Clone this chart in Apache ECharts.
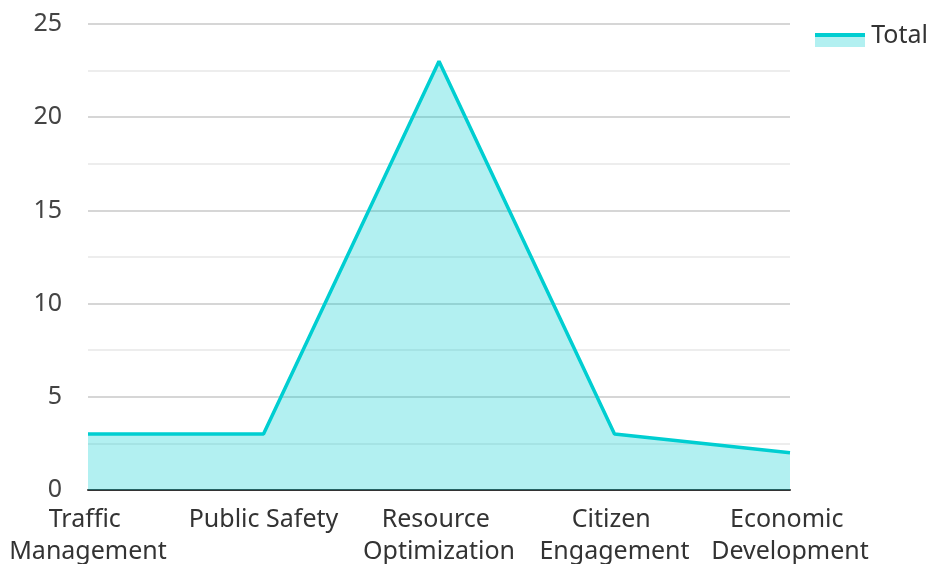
<!DOCTYPE html>
<html>
<head>
<meta charset="utf-8">
<script src="https://cdn.jsdelivr.net/npm/echarts@6/dist/echarts.min.js"></script>
<style>
  html, body { margin: 0; padding: 0; background: #fff; }
  #chart { width: 931px; height: 564px; }
</style>
</head>
<body>
<div id="chart"></div>
<script>
const categories = ['Traffic Management', 'Public Safety', 'Resource Optimization', 'Citizen Engagement', 'Economic Development'];
const totals = [3, 3, 23, 3, 2];
const seriesName = 'Total';

const lineColor = '#00CED1';
const areaColor = 'rgba(0, 206, 209, 0.3)';
const font = 'Noto Sans';

let myChart = echarts.init(document.getElementById('chart'));
let option = {
	textStyle: { fontFamily: font },
	legend: {
		data: [seriesName],
		right: 3,
		top: 23,
		padding: 0,
		icon: 'rect',
		itemWidth: 50,
		itemHeight: 14,
		itemGap: 10,
		itemStyle: { color: 'rgba(0,0,0,0)' },
		textStyle: { fontSize: 25, color: '#333', fontFamily: font, padding: [0, 0, 0, 5] }
	},
	// legend swatch: light area with the line along its top
	graphic: [{
		type: 'rect',
		shape: { x: 815, y: 33, width: 50, height: 14 },
		style: { fill: areaColor },
		z: 100
	}, {
		type: 'line',
		shape: { x1: 815, y1: 35, x2: 865, y2: 35 },
		style: { stroke: lineColor, lineWidth: 4 },
		z: 101
	}],
	grid: {
		left: 88,
		right: 141,
		top: 24,
		bottom: 74,
		outerBoundsMode: 'none'
	},
	xAxis: {
		type: 'category',
		data: categories,
		boundaryGap: false,
		axisLine: { lineStyle: { color: '#333', width: 2 } },
		axisTick: { show: false },
		axisLabel: {
			fontSize: 25,
			color: '#333',
			margin: 14,
			lineHeight: 32,
			width: 175,
			overflow: 'break',
			interval: 0
		}
	},
	yAxis: {
		type: 'value',
		min: 0,
		max: 25,
		interval: 5,
		axisLine: { show: false },
		axisTick: { show: false },
		axisLabel: { fontSize: 25, color: '#444', margin: 26 },
		splitLine: { lineStyle: { color: '#c8c8c8', width: 1.5 } },
		minorTick: { show: false, splitNumber: 2 },
		minorSplitLine: { show: true, lineStyle: { color: '#e8e8e8', width: 1.5 } }
	},
	series: [{
		name: seriesName,
		type: 'line',
		data: totals,
		showSymbol: false,
		symbol: 'none',
		lineStyle: { color: lineColor, width: 3.5 },
		itemStyle: { color: lineColor },
		areaStyle: { color: lineColor, opacity: 0.3 }
	}]
};
myChart.setOption(option);
</script>
</body>
</html>
